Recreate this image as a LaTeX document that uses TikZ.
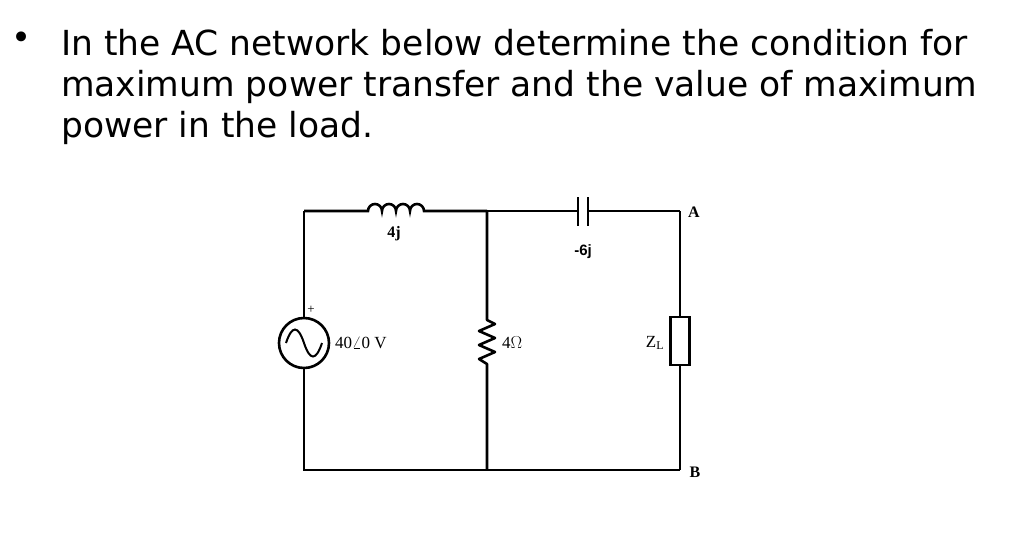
\documentclass[tikz,border=0pt]{standalone}
\usepackage{fontspec}
\setmainfont{DejaVu Sans}
\newfontfamily\ser{Liberation Serif}
\newfontfamily\ssf{Liberation Sans}
\begin{document}
\begin{tikzpicture}[x=1pt,y=-1pt,
  wire/.style={line width=2.6pt},
  lbl/.style={inner sep=0pt,font=\ser\fontsize{17}{17}\selectfont},
  para/.style={anchor=base west,inner sep=0pt,font=\fontsize{34.5}{34.5}\selectfont}]
\useasboundingbox (0,0) rectangle (1024,536);
\node[anchor=center,inner sep=0pt,font=\fontsize{34}{34}\selectfont] (bul) at (22,41) {•};
\node[para] (l1) at (61,55) {In the AC network below determine the condition for};
\node[para] (l2) at (61,96) {maximum power transfer and the value of maximum};
\node[para] (l3) at (61,137) {power in the load.};
% coordinates
\coordinate (TL) at (304,211); \coordinate (BL) at (304,470);
\coordinate (TM) at (487,211); \coordinate (BM) at (487,470);
\coordinate (TR) at (680,211); \coordinate (BR) at (680,470);
\node[circle,draw,line width=2.6pt,minimum size=50pt,inner sep=0pt] (src) at (304,343) {};
\draw[line width=2pt] (286,343) .. controls (292,325) and (298,325) .. (304,343) .. controls (310,361) and (316,361) .. (322,343);
\node[lbl,font=\ser\fontsize{13}{13}\selectfont] (plus) at (311,310) {+};
\node[lbl,anchor=west] (vlab) at (335,343) {40$\angle$0 V};
% inductor
\draw[wire] (TL) -- (368,211)
  arc[start angle=180,end angle=360,radius=7] arc[start angle=180,end angle=360,radius=7]
  arc[start angle=180,end angle=360,radius=7] arc[start angle=180,end angle=360,radius=7]
  -- (TM);
\node[lbl,font=\ser\bfseries\fontsize{16}{16}\selectfont] (ind) at (394,234) {4j};
% capacitor
\draw[wire] (TM) -- (578,211); \draw[wire] (588,211) -- (TR);
\draw[wire] (578,197) -- (578,226); \draw[wire] (588,197) -- (588,226);
\node[lbl,font=\ssf\bfseries\fontsize{15}{15}\selectfont] (cap) at (583,252) {-6j};
% left branch
\draw[wire] (TL) -- (src.north); \draw[wire] (src.south) -- (BL) -- (BM) -- (BR);
% resistor
\draw[wire,line join=round] (TM) -- (487,320) -- (495,324) -- (479,331) -- (495,338) -- (479,345) -- (495,352) -- (479,359) -- (487,364) -- (BM);
\node[lbl,anchor=west] (rlab) at (502,343) {4$\Omega$};
% load
\node[draw,line width=2.6pt,minimum width=19pt,minimum height=48pt,inner sep=0pt] (zl) at (680,341) {};
\draw[wire] (TR) -- (zl.north); \draw[wire] (zl.south) -- (BR);
\node[lbl] (zlab) at (655,343) {Z\textsubscript{L}};
\node[lbl,font=\ser\bfseries\fontsize{16}{16}\selectfont] (A) at (694,212) {A};
\node[lbl,font=\ser\bfseries\fontsize{16}{16}\selectfont] (B) at (695,472) {B};
\end{tikzpicture}
\end{document}
